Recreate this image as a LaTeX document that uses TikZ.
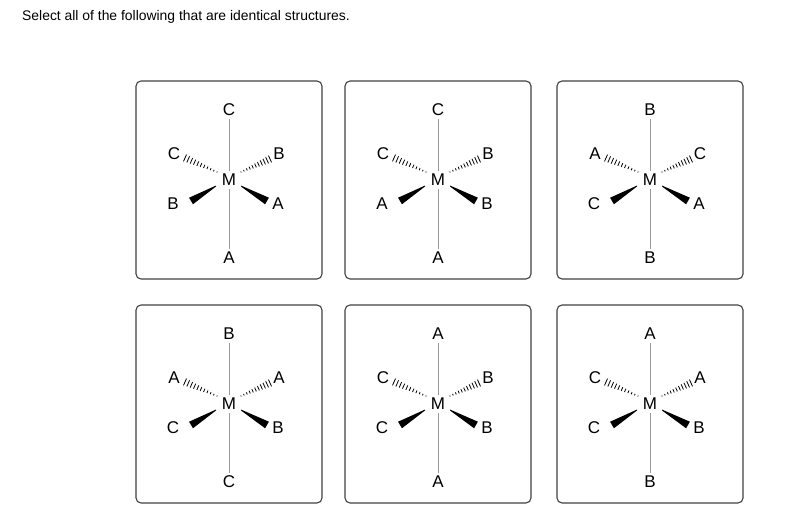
\documentclass[tikz,border=0pt]{standalone}
\usepackage{fontspec}
\setmainfont{Liberation Sans}
\usetikzlibrary{calc}
\tikzset{
  lbl/.style={inner sep=0pt, font=\fontsize{17}{17}\selectfont},
  bondline/.style={draw=gray!80, line width=1pt},
  panel/.style={draw=black!75, line width=1.1pt, rounded corners=5pt},
}
\newcommand\hashb[2]{%
  \foreach \t in {0,0.1,...,1.01}{
    \pgfmathsetmacro\hw{0.5+3.2*\t}
    \draw[line width=0.8pt] ($(#1)!\t!(#2)!\hw pt!90:(#2)$) -- ($(#1)!\t!(#2)!\hw pt!-90:(#2)$);
  }}
\newcommand\wedgeb[2]{%
  \fill ($(#1)!0.4pt!90:(#2)$) -- ($(#1)!0.4pt!-90:(#2)$) -- ($(#2)!3.8pt!90:(#1)$) -- ($(#2)!3.8pt!-90:(#1)$) -- cycle;}
\newcommand\octa[9]{%
 \begin{scope}[shift={(#2,#3)}]
  \draw[panel] (-93,-99) rectangle (93,99);
  \node[lbl] (#1M) at (0,0) {M};
  \node[lbl] (#1T) at (0,-70) {#4};
  \node[lbl] (#1B) at (0,78) {#9};
  \node[lbl] (#1UL) at (-55,-26) {#5};
  \node[lbl] (#1UR) at (50,-26) {#6};
  \node[lbl] (#1LL) at (-56,24) {#7};
  \node[lbl] (#1LR) at (49,24) {#8};
  \draw[bondline] ($(#1T.south)+(0,3)$) -- ($(#1M.north)+(0,-3)$);
  \draw[bondline] ($(#1M.south)+(0,3)$) -- ($(#1B.north)+(0,-3)$);
  \coordinate (#1h1a) at (-12,-8); \coordinate (#1h1b) at (-44,-22);
  \coordinate (#1h2a) at (12,-8); \coordinate (#1h2b) at (41,-21);
  \coordinate (#1w1a) at (-13,6); \coordinate (#1w1b) at (-38,21);
  \coordinate (#1w2a) at (12,6); \coordinate (#1w2b) at (38,21);
  \hashb{#1h1a}{#1h1b}
  \hashb{#1h2a}{#1h2b}
  \wedgeb{#1w1a}{#1w1b}
  \wedgeb{#1w2a}{#1w2b}
 \end{scope}}
\begin{document}
\begin{tikzpicture}[x=1pt,y=-1pt]
\useasboundingbox (0,0) rectangle (811,518);
\node[anchor=west, inner sep=0pt, font=\fontsize{13.9}{15}\selectfont] (title) at (22,17) {Select all of the following that are identical structures.};
\octa{a}{229}{180}{C}{C}{B}{B}{A}{A}
\octa{b}{438}{180}{C}{C}{B}{A}{B}{A}
\octa{c}{650}{180}{B}{A}{C}{C}{A}{B}
\octa{d}{229}{404}{B}{A}{A}{C}{B}{C}
\octa{e}{438}{404}{A}{C}{B}{C}{B}{A}
\octa{f}{650}{404}{A}{C}{A}{C}{B}{B}
\end{tikzpicture}
\end{document}
